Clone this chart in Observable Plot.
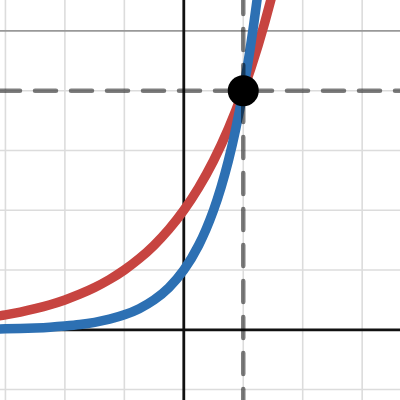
<!DOCTYPE html>
<html>
<head>
<meta charset="utf-8">
<script src="https://cdn.jsdelivr.net/npm/d3@7"></script>
<script src="https://cdn.jsdelivr.net/npm/@observablehq/plot@0.6"></script>
<style>
  html, body { margin: 0; padding: 0; background: #fff; }
  #chart svg { display: block; }
</style>
</head>
<body>
<div id="chart"></div>
<script>
const xs = [-3.25, -3, -2.75, -2.5, -2.25, -2, -1.75, -1.5, -1.25, -1, -0.75, -0.5, -0.25, 0, 0.25, 0.5, 0.75, 1, 1.25, 1.5, 1.75];
// Red curve values
const redY = [0.21, 0.25, 0.297, 0.354, 0.42, 0.5, 0.595, 0.707, 0.841, 1, 1.189, 1.414, 1.682, 2, 2.378, 2.828, 3.364, 4, 4.757, 5.657, 6.727];
// Blue curve values
const blueY = [0.011, 0.016, 0.022, 0.031, 0.044, 0.063, 0.088, 0.125, 0.177, 0.25, 0.354, 0.5, 0.707, 1, 1.414, 2, 2.828, 4, 5.657, 8, 11.31];
// Highlighted point
const pointX = [1];
const pointY = [4];
// Grid lines
const xGrid = [-3, -2, -1, 1, 2, 3];
const yGrid = [-1, 1, 2, 3, 4];
const yMajor = [5];

const red = xs.map((x, i) => ({x, y: redY[i]}));
const blue = xs.map((x, i) => ({x, y: blueY[i]}));
const pts = pointX.map((x, i) => ({x, y: pointY[i]}));

const chart = Plot.plot({
  width: 400,
  height: 400,
  margin: 0,
  x: {domain: [-3.083, 3.645], axis: null},
  y: {domain: [-1.183, 5.509], axis: null},
  marks: [
    Plot.ruleX(xGrid, {stroke: "#dcdcdc", strokeWidth: 1.6}),
    Plot.ruleY(yGrid, {stroke: "#dcdcdc", strokeWidth: 1.6}),
    Plot.ruleY(yMajor, {stroke: "#999", strokeWidth: 1.6}),
    Plot.ruleX([0], {stroke: "#111", strokeWidth: 2.8}),
    Plot.ruleY([0], {stroke: "#111", strokeWidth: 2.8}),
    Plot.line(red, {x: "x", y: "y", stroke: "#c74440", strokeWidth: 9.5, curve: "catmull-rom", clip: true}),
    Plot.line(blue, {x: "x", y: "y", stroke: "#2d70b3", strokeWidth: 9.5, curve: "catmull-rom", clip: true}),
    Plot.ruleY(pointY, {stroke: "#000", strokeOpacity: 0.5, strokeWidth: 4.5, strokeDasharray: "21,15", strokeDashoffset: 1, strokeLinecap: "round"}),
    Plot.ruleX(pointX, {stroke: "#000", strokeOpacity: 0.5, strokeWidth: 4.5, strokeDasharray: "21,15", strokeDashoffset: 7, strokeLinecap: "round"}),
    Plot.dot(pts, {x: "x", y: "y", r: 15.5, fill: "#000", stroke: "none"})
  ]
});
document.getElementById("chart").appendChild(chart);
</script>
</body>
</html>
